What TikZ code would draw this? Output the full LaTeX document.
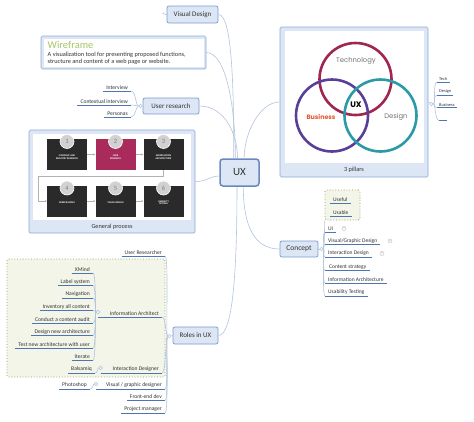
\documentclass[tikz,border=0pt]{standalone}
\usepackage{fontspec}
\setmainfont{Carlito}
\newfontfamily\popfont{Poppins}
\usetikzlibrary{arrows.meta}
\definecolor{connc}{HTML}{B3C4DD}
\definecolor{nfill}{HTML}{DCE6F4}
\definecolor{nborder}{HTML}{7B9CCD}
\definecolor{fborder}{HTML}{8EAAD6}
\definecolor{uline}{HTML}{4E74B3}
\definecolor{gfill}{HTML}{F2F5E7}
\definecolor{gborder}{HTML}{8E9A4A}
\definecolor{txt}{HTML}{333333}
\definecolor{boxdark}{HTML}{2B2A2B}
\definecolor{crim}{HTML}{A82B5C}
\definecolor{techc}{HTML}{A0264F}
\definecolor{busc}{HTML}{5A3F98}
\definecolor{desc}{HTML}{2A9AA6}
\definecolor{busorange}{HTML}{E2562F}
\definecolor{wfgreen}{HTML}{A6C46A}
\newcommand\myfs[1]{\fontsize{#1}{#1}\selectfont}
\begin{document}
\begin{tikzpicture}[x=1pt,y=-1pt,
  conn/.style={draw=connc, line width=0.6pt},
  topic/.style={draw=nborder, fill=nfill, rounded corners=2pt, line width=0.7pt, font=\myfs{7}, inner sep=0pt, text=txt},
  leafL/.style={anchor=south east, inner xsep=3pt, inner ysep=1.3pt, font=\myfs{5.6}, text=txt},
  leafR/.style={anchor=south west, inner xsep=3pt, inner ysep=1.3pt, font=\myfs{5.5}, text=txt},
  leafS/.style={anchor=south west, inner xsep=2pt, inner ysep=1.2pt, font=\myfs{4.4}, text=txt},
  ul/.style={draw=uline, line width=0.9pt},
  dotc/.style={circle, draw=connc, fill=white, line width=0.5pt, inner sep=0pt, minimum size=3.5pt},
  plusm/.style={circle, draw=gray!50, line width=0.4pt, inner sep=0pt, minimum size=4pt, text=gray!70, font=\myfs{4}},
  frame/.style={draw=fborder, fill=nfill, line width=0.7pt, rounded corners=1.5pt, inner sep=0pt},
  pbox/.style={fill=boxdark, minimum width=40pt, minimum height=31pt, inner sep=0pt},
  ptext/.style={text=white, font=\myfs{2.5}\bfseries, align=center, inner sep=0pt},
  pnum/.style={circle, fill=black!18, draw=white, line width=0.6pt, minimum size=14pt, inner sep=0pt, text=black!50, font=\myfs{6.5}},
  parr/.style={draw=black!30, line width=0.5pt, -{Stealth[length=2pt,width=2pt]}},
  venn/.style={line width=2.6pt},
]
\useasboundingbox (0,0) rectangle (474,421);
\fill[white] (0,0) rectangle (474,421);

% ---------- central ----------
\node[topic, rounded corners=3pt, draw=uline!85, line width=1.5pt, minimum width=39pt, minimum height=27pt, font=\myfs{11}] (ux) at (239.5,172.5) {UX};

% ---------- Visual Design ----------
\node[topic, minimum width=51pt, minimum height=17pt] (vd) at (192.5,14.5) {Visual Design};
\node[inner sep=0pt, text=gray!70, font=\myfs{5}] (vdm) at (163.5,14.5) {+};
\draw[conn] (vdm) -- (vd.west);

% ---------- Wireframe ----------
\node[frame, minimum width=165pt, minimum height=33pt] (wf) at (123.5,52.5) {};
\fill[white] (43.5,38.5) rectangle (203.5,66.5);
\node[anchor=base west, inner sep=0pt, text=wfgreen, font=\myfs{10.5}] (wft) at (47.5,48.5) {Wireframe};
\node[anchor=north west, inner sep=0pt, align=left, text=txt, font=\fontsize{6.3}{7}\selectfont] (wfd) at (47.5,51.5) {A visualization tool for presenting proposed functions,\\structure and content of a web page or website.};

% ---------- User research ----------
\node[topic, minimum width=56pt, minimum height=16pt] (ur) at (171,106) {User research};
\node[dotc] (urd) at (140.5,106) {};
\node[leafL] (iv) at (131,91) {Interview};
\node[leafL] (ci) at (131,105) {Contextual interview};
\node[leafL] (pe) at (131,117) {Personas};
\draw[conn] (ur.west) -- (urd);
\foreach \n in {iv,ci,pe} {
  \draw[ul] (\n.south west) -- (\n.south east);
  \draw[conn] (urd) .. controls +(-5,0) and +(5,0) .. (\n.south east);
}

% ---------- General process ----------
\node[frame, minimum width=166pt, minimum height=103pt] (gp) at (112,181.5) {};
\fill[white] (33,134) rectangle (191,220);
\node[inner sep=0pt, text=txt, font=\myfs{6.3}] (gpl) at (112,226.5) {General process};
\node[pbox] (pb1) at (67,154.5) {};
\node[pbox, fill=crim] (pb2) at (115.5,154.5) {};
\node[pbox] (pb3) at (163.5,154.5) {};
\node[pbox] (pb4) at (67,201) {};
\node[pbox] (pb5) at (115.5,201) {};
\node[pbox] (pb6) at (163.5,201) {};
\node[pnum] (n1) at (67,141.5) {1};
\node[pnum] (n2) at (115.5,141.5) {2};
\node[pnum] (n3) at (163.5,141.5) {3};
\node[pnum] (n4) at (67,188) {4};
\node[pnum] (n5) at (115.5,188) {5};
\node[pnum] (n6) at (163.5,188) {6};
\node[ptext] (t1) at (67,157) {COMPANY AND\\INDUSTRY RESEARCH};
\node[ptext] (t2) at (115.5,157) {USER\\RESEARCH};
\node[ptext] (t3) at (163.5,157) {INFORMATION\\ARCHITECTURE};
\node[ptext] (t4) at (67,202.5) {WIREFRAMING};
\node[ptext] (t5) at (115.5,202.5) {VISUAL DESIGN};
\node[ptext] (t6) at (163.5,202.5) {USABILITY\\TESTING};
\draw[parr] (pb1.east) -- (pb2.west);
\draw[parr] (pb2.east) -- (pb3.west);
\draw[parr] (pb3.south) |- (38,176) |- (pb4.west);
\draw[parr] (pb4.east) -- (pb5.west);
\draw[parr] (pb5.east) -- (pb6.west);

% ---------- 3 pillars ----------
\node[frame, minimum width=148pt, minimum height=150pt] (pil) at (354,102) {};
\fill[white] (285,31) rectangle (424,163);
\node[inner sep=0pt, text=txt, font=\myfs{6.3}] (pill) at (354,169.5) {3 pillars};
\draw[venn, techc] (355.5,79) circle (36);
\draw[venn, busc] (332,115.5) circle (36);
\draw[venn, desc] (380.5,115.5) circle (36);
\node[inner sep=0pt, text=black!55, font=\popfont\myfs{6.8}] (vt) at (356,61) {Technology};
\node[inner sep=0pt, text=busorange, font=\popfont\bfseries\myfs{6.3}] (vb) at (321,117) {Business};
\node[inner sep=0pt, text=black!55, font=\popfont\myfs{6.8}] (vdz) at (396,117) {Design};
\node[inner sep=0pt, text=black, font=\popfont\bfseries\myfs{8}] (vux) at (356,105) {UX};
\node[dotc] (pd) at (431.5,104) {};
\node[leafS] (tech) at (437,82) {Tech};
\node[leafS] (dsg) at (437,95) {Design};
\node[leafS] (bus) at (437,107.5) {Business};
\node[anchor=south west, inner sep=0pt, minimum width=8pt, minimum height=0pt] (emp) at (439,120.5) {};
\draw[conn] (pil.east) -- (pd);
\foreach \n in {tech,dsg,bus,emp} {
  \draw[ul] (\n.south west) -- (\n.south east);
  \draw[conn] (pd) .. controls +(4,0) and +(-4,0) .. (\n.south west);
}

% ---------- Concept ----------
\node[topic, minimum width=38pt, minimum height=16pt, font=\myfs{7.5}] (concept) at (299,249) {Concept};
\node[dotc] (cd) at (321.5,249) {};
\node[draw=gborder, fill=gfill, dotted, line width=0.8pt, rounded corners=1.5pt, minimum width=35pt, minimum height=30pt, inner sep=0pt] (ubox) at (342.5,205) {};
\node[leafR] (useful) at (330,203.5) {Useful};
\node[leafR] (usable) at (330,216.5) {Usable};
\node[leafR] (ui) at (325,232) {UI};
\node[leafR] (vgdc) at (325,244.5) {Visual/Graphic Design};
\node[leafR] (ixd) at (325,257) {Interaction Design};
\node[leafR, inner xsep=4pt] (cs) at (325,270.5) {Content strategy};
\node[leafR] (infa) at (325,283) {Information Architecture};
\node[leafR] (ut) at (325,296) {Usability Testing};
\node[plusm] (m1) at (344,228.5) {+};
\node[plusm] (m2) at (390,241) {+};
\node[plusm] (m3) at (382,253.5) {+};
\draw[conn] (concept.east) -- (cd);
\draw[conn] (cd) .. controls +(3,0) and +(0,6) .. (ubox.south west);
\foreach \n in {useful,usable} \draw[ul] (\n.south west) -- (\n.south east);
\foreach \n in {ui,vgdc,ixd,cs,infa,ut} {
  \draw[ul] (\n.south west) -- (\n.south east);
  \draw[conn] (cd) .. controls +(3,0) and +(-3,0) .. (\n.south west);
}

% ---------- Roles in UX ----------
\node[draw=gborder, fill=gfill, dotted, line width=0.8pt, rounded corners=1.5pt, minimum width=158pt, minimum height=118pt, inner sep=0pt] (gbox) at (86,318) {};
\node[topic, minimum width=45pt, minimum height=17pt] (roles) at (195.5,335.5) {Roles in UX};
\node[dotc] (rd) at (169.5,336) {};
\node[leafL] (ures) at (165,256) {User Researcher};
\node[leafL] (ia) at (162,317) {Information Architect};
\node[leafL] (idz) at (162,373) {Interaction Designer};
\node[leafL] (vgd) at (165,389) {Visual / graphic designer};
\node[leafL] (fed) at (165,400.5) {Front-end dev};
\node[leafL] (pm) at (165,413) {Project manager};
\node[dotc] (iad) at (98,312) {};
\node[dotc] (idd) at (100.5,368) {};
\node[dotc] (vgdd) at (96,384) {};
\node[leafL] (xm) at (93,273) {XMind};
\node[leafL] (ls) at (93,285.5) {Label system};
\node[leafL] (nav) at (93,298) {Navigation};
\node[leafL] (inv) at (93,310.5) {Inventory all content};
\node[leafL] (cca) at (93,323) {Conduct a content audit};
\node[leafL] (dna) at (93,335.5) {Design new architecture};
\node[leafL] (tna) at (93,348) {Test new architecture with user};
\node[leafL] (it) at (93,360.5) {Iterate};
\node[leafL] (bal) at (95,373) {Balsamiq};
\node[leafL] (ps) at (90,389) {Photoshop};
\draw[conn] (roles.west) -- (rd);
\foreach \n in {ures,fed,pm} \draw[ul] (\n.south west) -- (\n.south east);
\draw[ul] (iad.center |- ia.south) -- (ia.south east);
\draw[ul] (idd.center |- idz.south) -- (idz.south east);
\draw[ul] (vgdd.center |- vgd.south) -- (vgd.south east);
\foreach \n in {ures,ia,idz,vgd,fed,pm}
  \draw[conn] (rd) .. controls +(-4,0) and +(4,0) .. (\n.south east);
\foreach \n in {xm,ls,nav,inv,cca,dna,tna,it} {
  \draw[ul] (\n.south west) -- (\n.south east);
  \draw[conn] (iad) .. controls +(-3,0) and +(3,0) .. (\n.south east);
}
\draw[ul] (bal.south west) -- (bal.south east);
\draw[ul] (ps.south west) -- (ps.south east);
\draw[conn] (idd) .. controls +(-3,0) and +(3,0) .. (bal.south east);
\draw[conn] (vgdd) .. controls +(-3,0) and +(3,0) .. (ps.south east);
\node[dotc] at (iad) {};
\node[dotc] at (idd) {};
\node[dotc] at (vgdd) {};

% ---------- main connectors ----------
\draw[conn] (vd.east) .. controls +(14,0) and +(0,-70) .. (ux.112);
\draw[conn] (wf.east) .. controls +(20,0) and +(0,-50) .. (ux.106);
\draw[conn] (ur.east) .. controls +(25,0) and +(0,-25) .. (ux.98);
\draw[conn] (pil.west) .. controls +(-20,0) and +(0,-25) .. (ux.72);
\draw[conn] (gp.east) .. controls +(12,0) and +(-10,0) .. (ux.190);
\draw[conn] (ux.285) .. controls +(0,40) and +(-25,0) .. (concept.west);
\draw[conn] (ux.260) .. controls +(0,80) and +(15,0) .. (roles.east);
\end{tikzpicture}
\end{document}
